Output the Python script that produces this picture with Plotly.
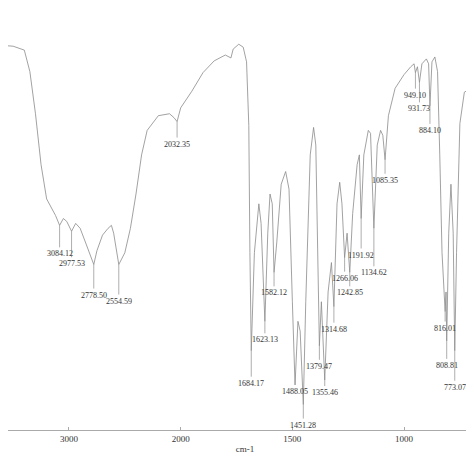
import plotly.graph_objects as go

wavenumber = [3630,3500,3400,3350,3300,3250,3200,3120,3084,3050,3020,2977,2940,2900,2850,2800,2778,2750,2700,2650,2620,2600,2554,2500,2450,2400,2350,2300,2200,2100,2060,2032,2000,1950,1900,1850,1800,1775,1765,1740,1720,1705,1695,1690,1684,1670,1650,1640,1623,1610,1600,1590,1582,1570,1550,1530,1515,1500,1488,1475,1465,1451,1440,1420,1405,1395,1385,1379,1370,1355,1340,1325,1314,1300,1288,1278,1266,1255,1243,1230,1210,1200,1192,1180,1160,1150,1135,1120,1105,1095,1085,1070,1040,1000,970,955,949,940,931,920,900,890,884,875,862,850,840,830,816,812,809,800,790,780,773,765,750,730,715,705,698,692,688,685,680]
ypix = [38,39,43,65,108,160,195,212,222,215,218,228,220,225,240,255,262,248,232,225,222,230,262,250,225,190,150,125,110,108,112,116,102,85,66,54,48,51,42,37,40,55,120,250,350,250,200,220,320,230,190,200,270,240,180,167,185,300,385,320,330,405,300,150,122,140,260,345,300,380,290,260,305,200,178,200,255,230,270,210,160,150,215,150,125,128,225,140,125,130,155,110,82,68,60,57,66,60,76,57,52,57,100,55,50,65,150,250,310,290,340,230,180,230,350,250,118,86,84,96,130,90,108,180,200]
transmittance = [431 - y for y in ypix]

peak_labels = ["3084.12","2977.53","2778.50","2554.59","2032.35","1684.17","1623.13","1582.12","1488.05","1451.28","1379.47","1355.46","1314.68","1266.06","1242.85","1191.92","1134.62","1085.35","949.10","931.73","884.10","816.01","808.81","773.07","698","685"]
peak_wn = [3084,2977,2778,2554,2032,1684,1623,1582,1488,1451,1379,1355,1314,1266,1243,1192,1135,1085,949,931,884,816,809,773,698,685]
label_offsets = [12,16,14,20,6,16,2,4,-10,4,4,-4,6,4,4,20,28,4,6,10,8,0,8,20,4,6]

tick_wn = [3000, 2000, 1500, 1000]

def u(w):
    return w if w <= 2000 else 2000 + (w - 2000) / 2

fig = go.Figure(go.Scatter(x=[u(w) for w in wavenumber], y=transmittance, mode="lines",
                           line=dict(color="#8a8a8a", width=0.8)))

for lab, w, off in zip(peak_labels, peak_wn, label_offsets):
    i = wavenumber.index(w)
    fig.add_annotation(x=u(w), y=transmittance[i], text=lab, showarrow=True, arrowhead=0,
                       arrowwidth=0.6, arrowcolor="#777", ax=0, ay=off + 10, standoff=0,
                       font=dict(size=8, color="#333", family="Liberation Serif"),
                       yanchor="top")

fig.update_layout(
    width=474, height=474, margin=dict(l=0, r=0, t=0, b=52),
    plot_bgcolor="white", paper_bgcolor="white", showlegend=False,
    xaxis=dict(range=[2773, 651], tickvals=[u(t) for t in tick_wn],
               ticktext=[str(t) for t in tick_wn], showgrid=False, zeroline=False,
               showline=True, linecolor="#aaa", linewidth=1, ticks="inside", ticklen=3,
               tickcolor="#aaa", tickfont=dict(size=9, family="Liberation Serif", color="#333"),
               title=dict(text="cm-1", font=dict(size=9, family="Liberation Serif", color="#333"), standoff=2)),
    yaxis=dict(range=[0, 431], visible=False),
)
fig.write_html("out.html")
